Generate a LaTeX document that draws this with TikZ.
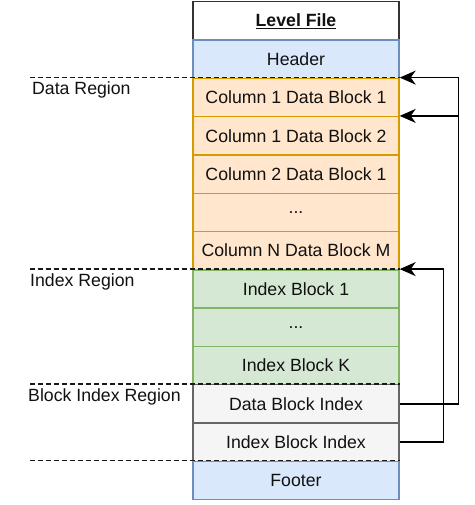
\documentclass[tikz,border=0pt]{standalone}
\usepackage{fontspec}
\setmainfont{Liberation Sans}
\usetikzlibrary{arrows.meta}
\definecolor{bluefill}{HTML}{DAE8FC}
\definecolor{bluedraw}{HTML}{6C8EBF}
\definecolor{orfill}{HTML}{FFE6CC}
\definecolor{ordraw}{HTML}{D79B00}
\definecolor{grfill}{HTML}{D5E8D4}
\definecolor{grdraw}{HTML}{82B366}
\definecolor{gyfill}{HTML}{F5F5F5}
\definecolor{gydraw}{HTML}{666666}
\definecolor{tx}{HTML}{111111}
\tikzset{
  row/.style={rectangle, minimum width=206pt, minimum height=38.3pt, anchor=north,
    inner sep=0pt, line width=1.4pt, font=\fontsize{17.7}{20}\selectfont, text=tx},
  titlebox/.style={row, fill=white, draw=black!80},
  bluebox/.style={row, fill=bluefill, draw=bluedraw},
  orbox/.style={row, fill=orfill, draw=ordraw},
  grbox/.style={row, fill=grfill, draw=grdraw},
  gybox/.style={row, fill=gyfill, draw=gydraw},
  regline/.style={dashed, dash pattern=on 4.5pt off 3.5pt, line width=1.4pt, draw=black!90},
  reglabel/.style={anchor=west, inner sep=0pt, font=\fontsize{17.7}{20}\selectfont, text=tx},
  conn/.style={line width=1.5pt, -{Stealth[length=16pt,width=14pt,inset=5pt]}}
}
\begin{document}
\begin{tikzpicture}[x=1pt,y=-1pt]
\useasboundingbox (0,0) rectangle (474,505);
\def\h{38.3}
\node[titlebox] (lf) at (296,1) {\underline{\textbf{Level File}}};
\node[bluebox] (hdr) at (296,1+\h) {Header};
\node[orbox] (c1b1) at (296,1+2*\h) {Column 1 Data Block 1};
\node[orbox] (c1b2) at (296,1+3*\h) {Column 1 Data Block 2};
\node[orbox] (c2b1) at (296,1+4*\h) {Column 2 Data Block 1};
\node[orbox] (dots1) at (296,1+5*\h) {...};
\node[orbox] (cnbm) at (296,1+6*\h) {Column N Data Block M};
\node[grbox] (ib1) at (296,1+7*\h) {Index Block 1};
\node[grbox] (dots2) at (296,1+8*\h) {...};
\node[grbox] (ibk) at (296,1+9*\h) {Index Block K};
\node[gybox] (dbi) at (296,1+10*\h) {Data Block Index};
\node[gybox] (ibi) at (296,1+11*\h) {Index Block Index};
\node[bluebox] (ftr) at (296,1+12*\h) {Footer};
% region lines
\coordinate (r1) at (30,1+2*\h);
\coordinate (r2) at (30,1+7*\h);
\coordinate (r3) at (30,1+10*\h);
\coordinate (r4) at (30,1+12*\h);
\draw[regline] (r1) -- (c1b1.north west) -- (c1b1.north east);
\draw[regline] (r2) -- (ib1.north west) -- (ib1.north east);
\draw[regline] (r3) -- (dbi.north west) -- (dbi.north east);
\draw[regline] (r4) -- (ftr.north west) -- (ftr.north east);
\node[reglabel] (lbl1) at (32,90) {Data Region};
\node[reglabel] (lbl2) at (30,282) {Index Region};
\node[reglabel] (lbl3) at (28,397) {Block Index Region};
% connectors
\draw[conn] (dbi.east) -- ++(59,0) |- (c1b1.north east);
\draw[conn] (dbi.east) -- ++(59,0) |- (c1b2.north east);
\draw[conn] (ibi.east) -- ++(44,0) |- (ib1.north east);
\end{tikzpicture}
\end{document}
